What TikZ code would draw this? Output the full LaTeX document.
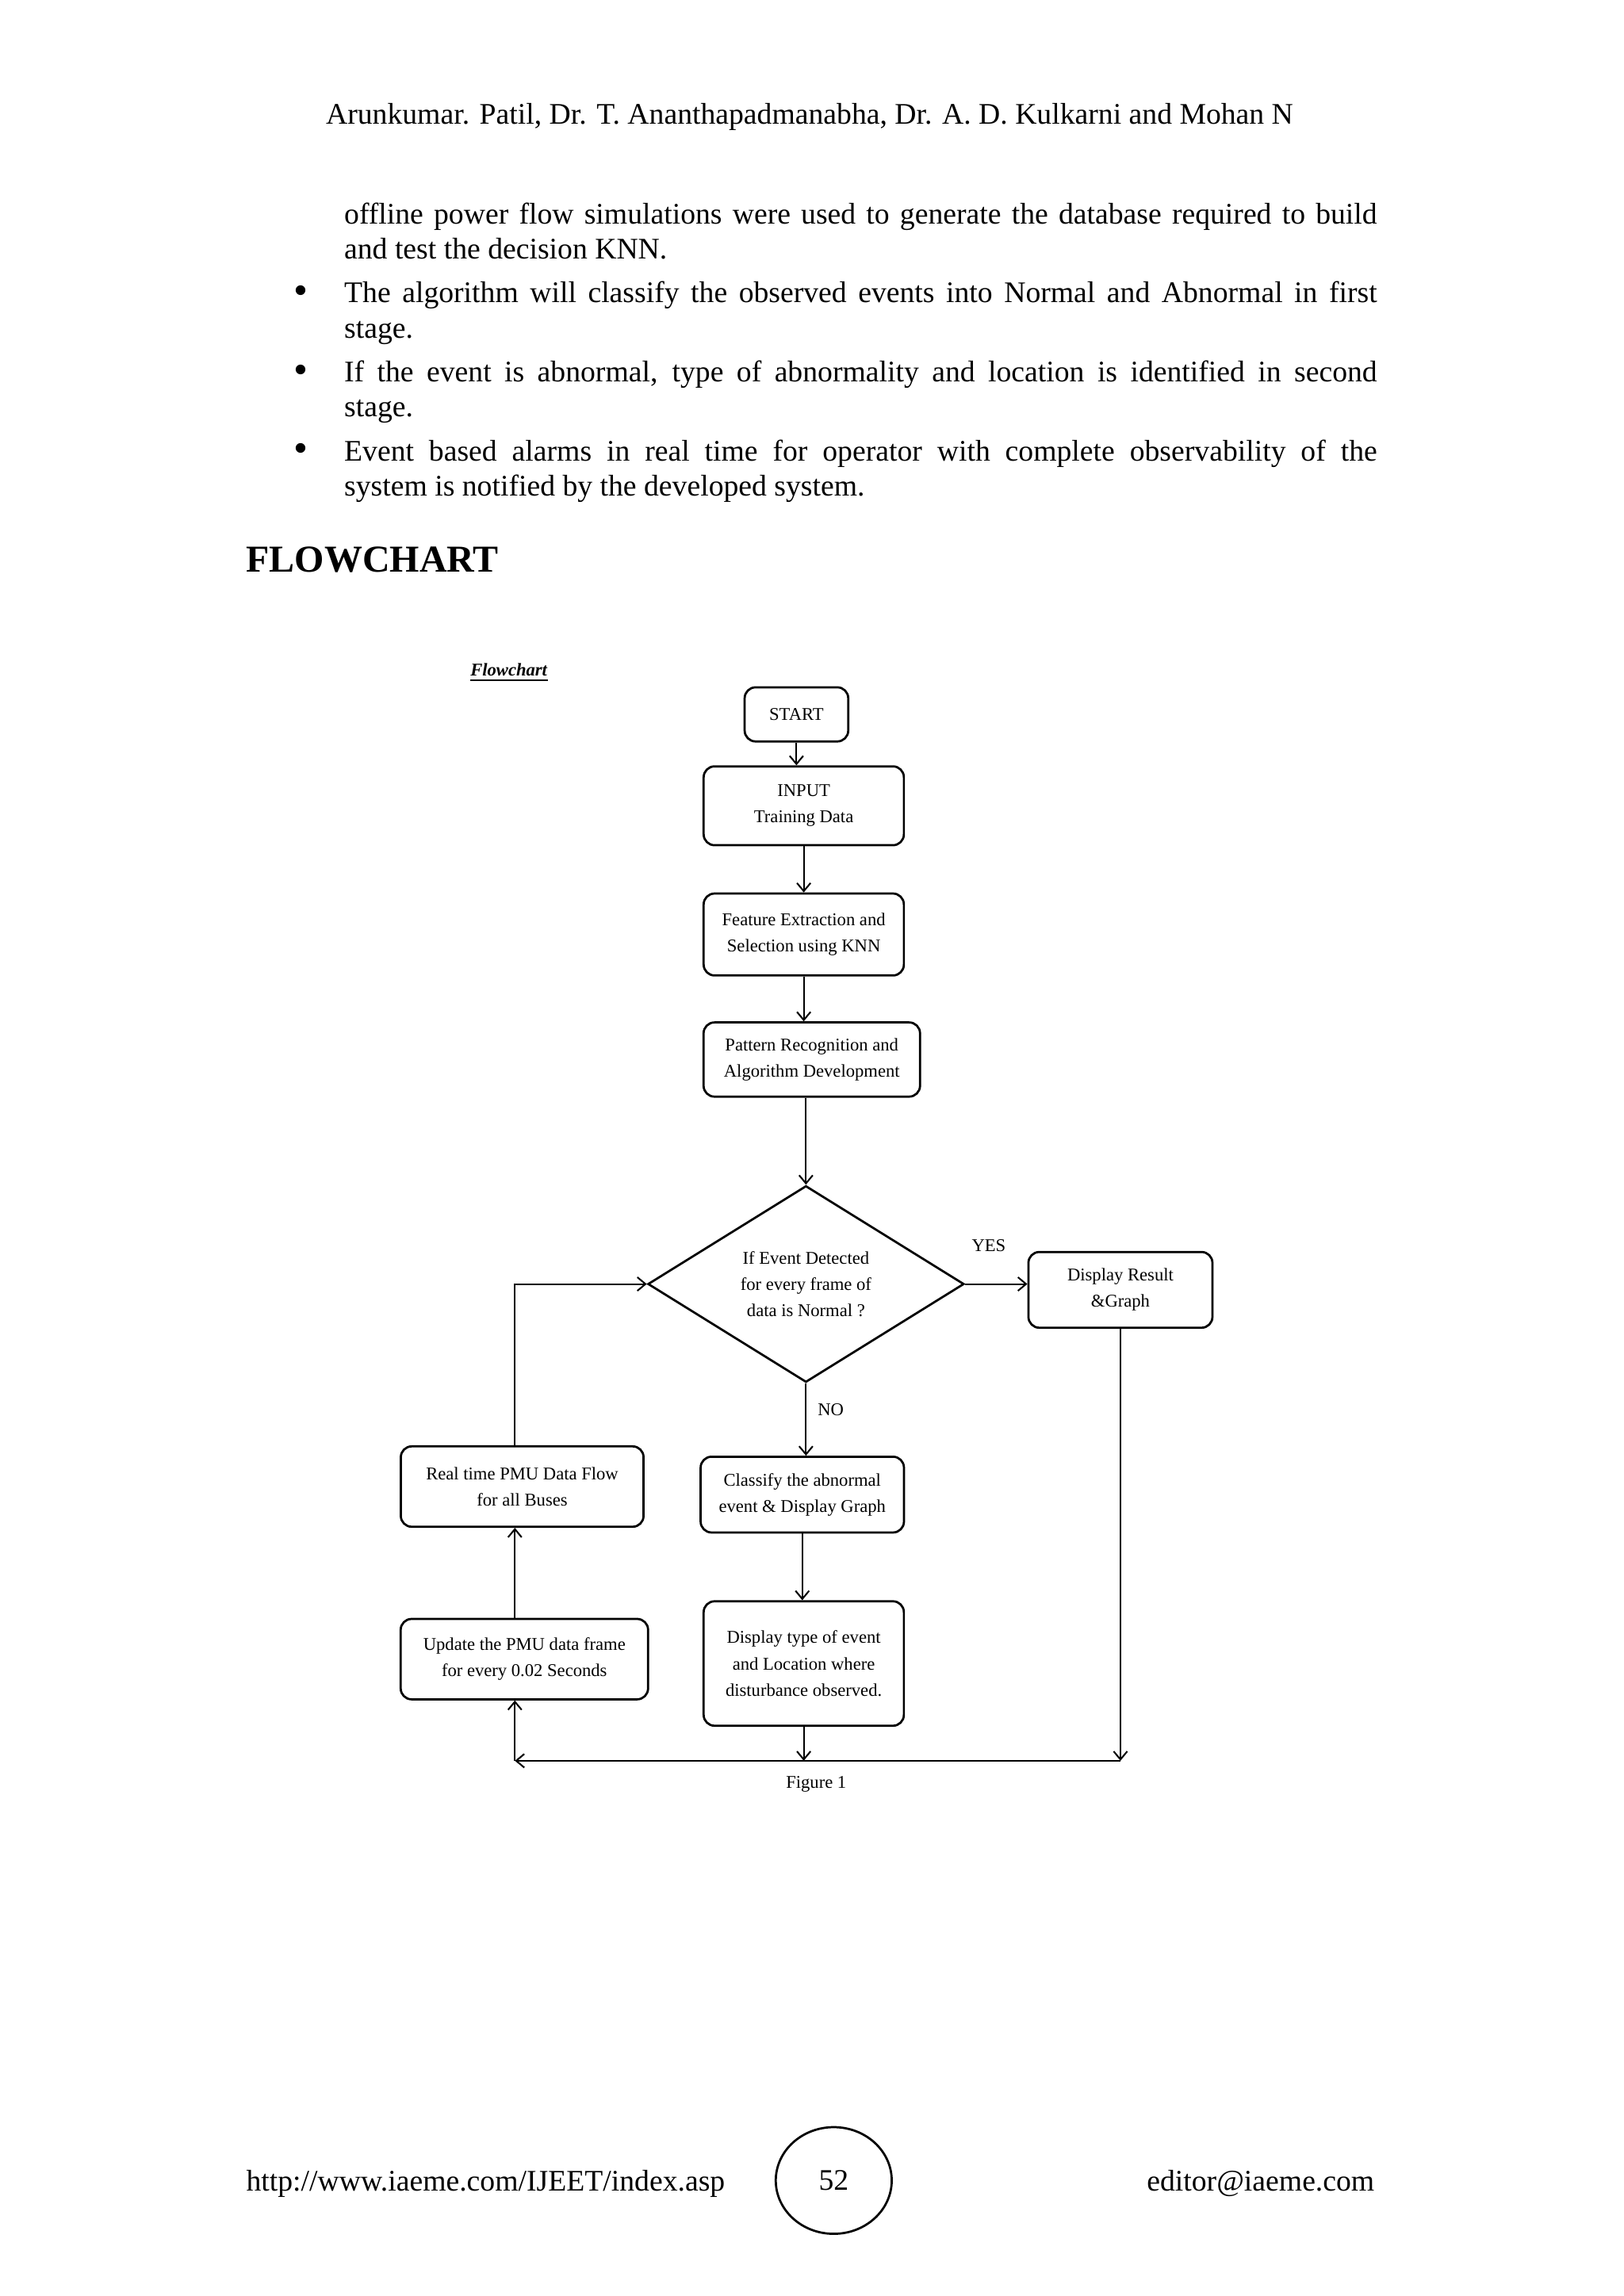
\documentclass[tikz,border=0pt]{standalone}
\usepackage{fontspec}
\setmainfont{Liberation Serif}
\usetikzlibrary{shapes.geometric,positioning,arrows.meta}

\tikzset{
  pagetext/.style={inner sep=0pt, font=\fontsize{11}{12.9}\selectfont},
  bulletmark/.style={inner sep=0pt, font=\fontsize{15}{15}\selectfont},
  stepbox/.style={draw, rounded corners=4pt, line width=0.8pt, align=center, inner sep=1pt, font=\fontsize{6.6}{9.7}\selectfont},
  decision/.style={diamond, draw, line width=0.8pt, align=center, inner sep=0pt, font=\fontsize{6.6}{9.7}\selectfont},
  flowline/.style={-{Straight Barb[length=3pt,width=5pt]}, line width=0.6pt},
  smalllabel/.style={inner sep=0pt, font=\fontsize{6.6}{8}\selectfont},
}

\begin{document}
\begin{tikzpicture}[x=0.018919cm, y=-0.018919cm]
      \useasboundingbox[fill=white] (0,-2) rectangle (1110,1568);

      % running head and text above the chart
      \draw (553.5,83) node [pagetext, anchor=base] (header)
      {Arunkumar. Patil, Dr. T. Ananthapadmanabha, Dr. A. D. Kulkarni and Mohan N};

      \draw (235,151) node [pagetext, anchor=base west] (para1)
      {\makebox[13.36cm][s]{offline power flow simulations were used to generate the database required to build}};
      \draw (235,175) node [pagetext, anchor=base west] (para2) {and test the decision KNN.};

      \draw (206,206) node [bulletmark, anchor=base] (dot1) {•};
      \draw (235,205) node [pagetext, anchor=base west] (item1a)
      {\makebox[13.36cm][s]{The algorithm will classify the observed events into Normal and Abnormal in first}};
      \draw (235,229) node [pagetext, anchor=base west] (item1b) {stage.};

      \draw (206,260) node [bulletmark, anchor=base] (dot2) {•};
      \draw (235,259) node [pagetext, anchor=base west] (item2a)
      {\makebox[13.36cm][s]{If the event is abnormal, type of abnormality and location is identified in second}};
      \draw (235,283) node [pagetext, anchor=base west] (item2b) {stage.};

      \draw (206,314) node [bulletmark, anchor=base] (dot3) {•};
      \draw (235,313) node [pagetext, anchor=base west] (item3a)
      {\makebox[13.36cm][s]{Event based alarms in real time for operator with complete observability of the}};
      \draw (235,337) node [pagetext, anchor=base west] (item3b) {system is notified by the developed system.};

      \draw (168,389) node [inner sep=0pt, anchor=base west, font=\fontsize{14}{16}\selectfont\bfseries] (heading) {FLOWCHART};

      % the flowchart
      \draw (348,458) node [smalllabel] (title) {\underline{\textbf{\textit{Flowchart}}}};

      \draw (544.5,486.5) node [stepbox, minimum width=1.34cm, minimum height=0.70cm] (start) {START};
      \draw (549.5,549) node [stepbox, minimum width=2.59cm, minimum height=1.02cm] (input) {INPUT\\Training Data};
      \draw (549.5,637) node [stepbox, minimum width=2.59cm, minimum height=1.06cm] (feature) {Feature Extraction and\\Selection using KNN};
      \draw (555,722.5) node [stepbox, minimum width=2.80cm, minimum height=0.96cm] (pattern) {Pattern Recognition and\\Algorithm Development};
      \draw (551,876) node [decision, minimum width=4.09cm, minimum height=2.38cm] (event) {If Event Detected\\for every frame of\\data is Normal ?};
      \draw (766,880) node [stepbox, minimum width=2.38cm, minimum height=0.98cm] (result) {Display Result\\\&Graph};
      \draw (548.5,1020) node [stepbox, minimum width=2.63cm, minimum height=0.98cm] (classify) {Classify the abnormal\\event \& Display Graph};
      \draw (549.5,1135.5) node [stepbox, minimum width=2.59cm, minimum height=1.61cm] (location) {Display type of event\\and Location where\\disturbance observed.};
      \draw (357,1014.5) node [stepbox, minimum width=3.14cm, minimum height=1.04cm] (realtime) {Real time PMU Data Flow\\for all Buses};
      \draw (358.5,1132.5) node [stepbox, minimum width=3.20cm, minimum height=1.04cm] (update) {Update the PMU data frame\\for every 0.02 Seconds};
      \coordinate (corner) at (352,1202);

      \draw (676,850) node [smalllabel] (yes) {YES};
      \draw (568,962) node [smalllabel] (no) {NO};
      \draw (558,1218) node [smalllabel] (figure) {Figure 1};

      \scope[flowline]
        \draw (start.south) -- (start.south |- input.north);
        \draw (input.south) -- (input.south |- feature.north);
        \draw (feature.south) -- (feature.south |- pattern.north);
        \draw (pattern.south -| event.north) -- (event.north);
        \draw (event.east) -- (event.east -| result.west);
        \draw (event.south) -- (event.south |- classify.north);
        \draw (classify.south) -- (classify.south |- location.north);
        \draw (location.south) -- (location.south |- corner);
        \draw (result.south) -- (result.south |- corner);
        \draw (result.south |- corner) -- (corner);
        \draw (corner) -- (corner |- update.south);
        \draw (corner |- update.north) -- (corner |- realtime.south);
        \draw (corner |- realtime.north) |- (event.west);
      \endscope

      % page foot
      \draw (168,1496) node [pagetext, anchor=base west] (url) {http://www.iaeme.com/IJEET/index.asp};
      \draw (570,1489) node [pagetext, ellipse, draw, line width=0.8pt, minimum width=1.5cm, minimum height=1.38cm] (pagenum) {52};
      \draw (940,1496) node [pagetext, anchor=base east] (mail) {editor@iaeme.com};
   \end{tikzpicture}
\end{document}
